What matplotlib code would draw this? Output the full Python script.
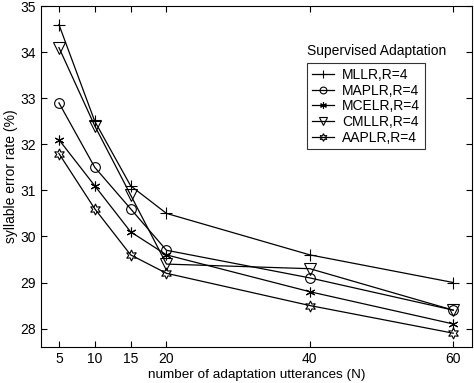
import numpy as np
import matplotlib.pyplot as plt

plt.rcParams['font.family'] = ['Liberation Sans', 'DejaVu Sans']

# number of adaptation utterances
n_utt = [5, 10, 15, 20, 40, 60]

# syllable error rates (%) per method
mllr = [34.6, 32.5, 31.1, 30.5, 29.6, 29.0]
maplr = [32.9, 31.5, 30.6, 29.7, 29.1, 28.4]
mcelr = [32.1, 31.1, 30.1, 29.6, 28.8, 28.1]
cmllr = [34.1, 32.4, 30.9, 29.4, 29.3, 28.4]
aaplr = [31.8, 30.6, 29.6, 29.2, 28.5, 27.9]

labels = ['MLLR,R=4', 'MAPLR,R=4', 'MCELR,R=4', 'CMLLR,R=4', 'AAPLR,R=4']
yticks = [28, 29, 30, 31, 32, 33, 34, 35]

fig = plt.figure(figsize=(4.74, 3.83), dpi=100)
# axes box roughly from x=41..472 px, y=6..347 px
ax = fig.add_axes([0.0865, 0.094, 0.909, 0.890])

series = [mllr, maplr, mcelr, cmllr, aaplr]
markers = ['+', 'o', (6, 2, 0), 'v', (6, 1, 0)]
sizes = [9, 7, 7, 8, 8]

for ys, m, ms, lab in zip(series, markers, sizes, labels):
    ax.plot(n_utt, ys, color='black', lw=0.9, marker=m, markersize=ms,
            markerfacecolor='none', markeredgecolor='black', markeredgewidth=0.8,
            label=lab)

ax.set_xlim(2.5, 62.6)
ax.set_ylim(27.6, 35)
ax.set_xticks(n_utt)
ax.set_yticks(yticks)
ax.tick_params(direction='in', top=True, right=True, labelsize=10, length=4)
ax.set_xlabel('number of adaptation utterances (N)', fontsize=9.7, labelpad=2)
ax.set_ylabel('syllable error rate (%)', fontsize=10, labelpad=2)

leg = ax.legend(loc='upper left', bbox_to_anchor=(0.617, 0.833), borderaxespad=0,
                fontsize=10, frameon=True, fancybox=False, edgecolor='black',
                handlelength=1.6, handletextpad=0.6, borderpad=0.35,
                labelspacing=0.12, markerscale=0.7)
leg.get_frame().set_linewidth(0.8)
fig.text(0.648, 0.856, 'Supervised Adaptation', fontsize=10, va='baseline')

fig.savefig('out.png', dpi=100)
